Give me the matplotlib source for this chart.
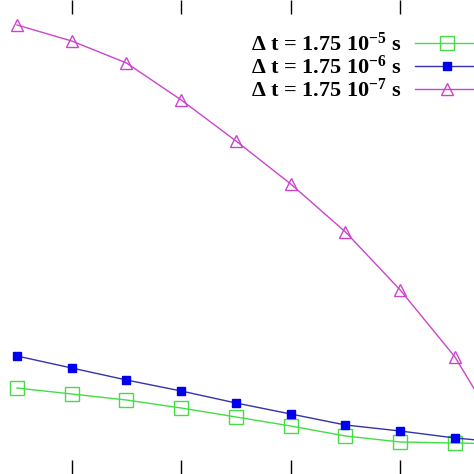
import matplotlib
matplotlib.use("Agg")
import matplotlib.pyplot as plt

plt.rcParams['font.family'] = ['Liberation Serif', 'DejaVu Serif']
plt.rcParams['mathtext.fontset'] = 'custom'
plt.rcParams['mathtext.rm'] = 'Liberation Serif:bold'
plt.rcParams['mathtext.it'] = 'Liberation Serif:bold'
plt.rcParams['mathtext.bf'] = 'Liberation Serif:bold'

x = [0, 1, 2, 3, 4, 5, 6, 7, 8, 9]
y_green = [86, 80, 74, 66, 57, 48, 38, 32, 31, 30]
y_blue = [118, 106, 94, 83, 71, 60, 49, 43, 36, 31]
y_magenta = [449, 433, 411, 374, 333, 290, 242, 184, 117, 26]
labels = [r'$\Delta$ t = 1.75 10$^{-5}$ s',
          r'$\Delta$ t = 1.75 10$^{-6}$ s',
          r'$\Delta$ t = 1.75 10$^{-7}$ s']

fig = plt.figure(figsize=(4.74, 4.74), dpi=100)
ax = fig.add_axes([0, 0, 1, 1])
ax.plot(x, y_green, color='#44dd44', lw=1, marker='s', ms=10, mfc='none', mew=1, label=labels[0])
ax.plot(x, y_blue, color='#3333aa', lw=1, marker='s', ms=5.5, mfc='#0000ee', mec='#0000ee', label=labels[1])
ax.plot(x, y_magenta, color='#cc44cc', lw=1, marker='^', ms=8, mfc='none', mew=1, label=labels[2])
ax.set_xlim(-17/54.75, 457/54.75)
ax.set_ylim(0, 474)
for s in ax.spines.values():
    s.set_visible(False)
ax.set_xticks([1, 3, 5, 7])
ax.set_xticklabels([])
ax.set_yticks([])
ax.tick_params(axis='x', direction='in', top=True, bottom=True, length=10, width=1, color='black')
ax.legend(loc='upper right', bbox_to_anchor=(1.035, 0.955), frameon=False, markerfirst=False,
          prop={'weight': 'bold', 'size': 16}, handlelength=2.9, labelspacing=0.0,
          handletextpad=0.6, borderpad=0)
fig.savefig('out.png', dpi=100)
